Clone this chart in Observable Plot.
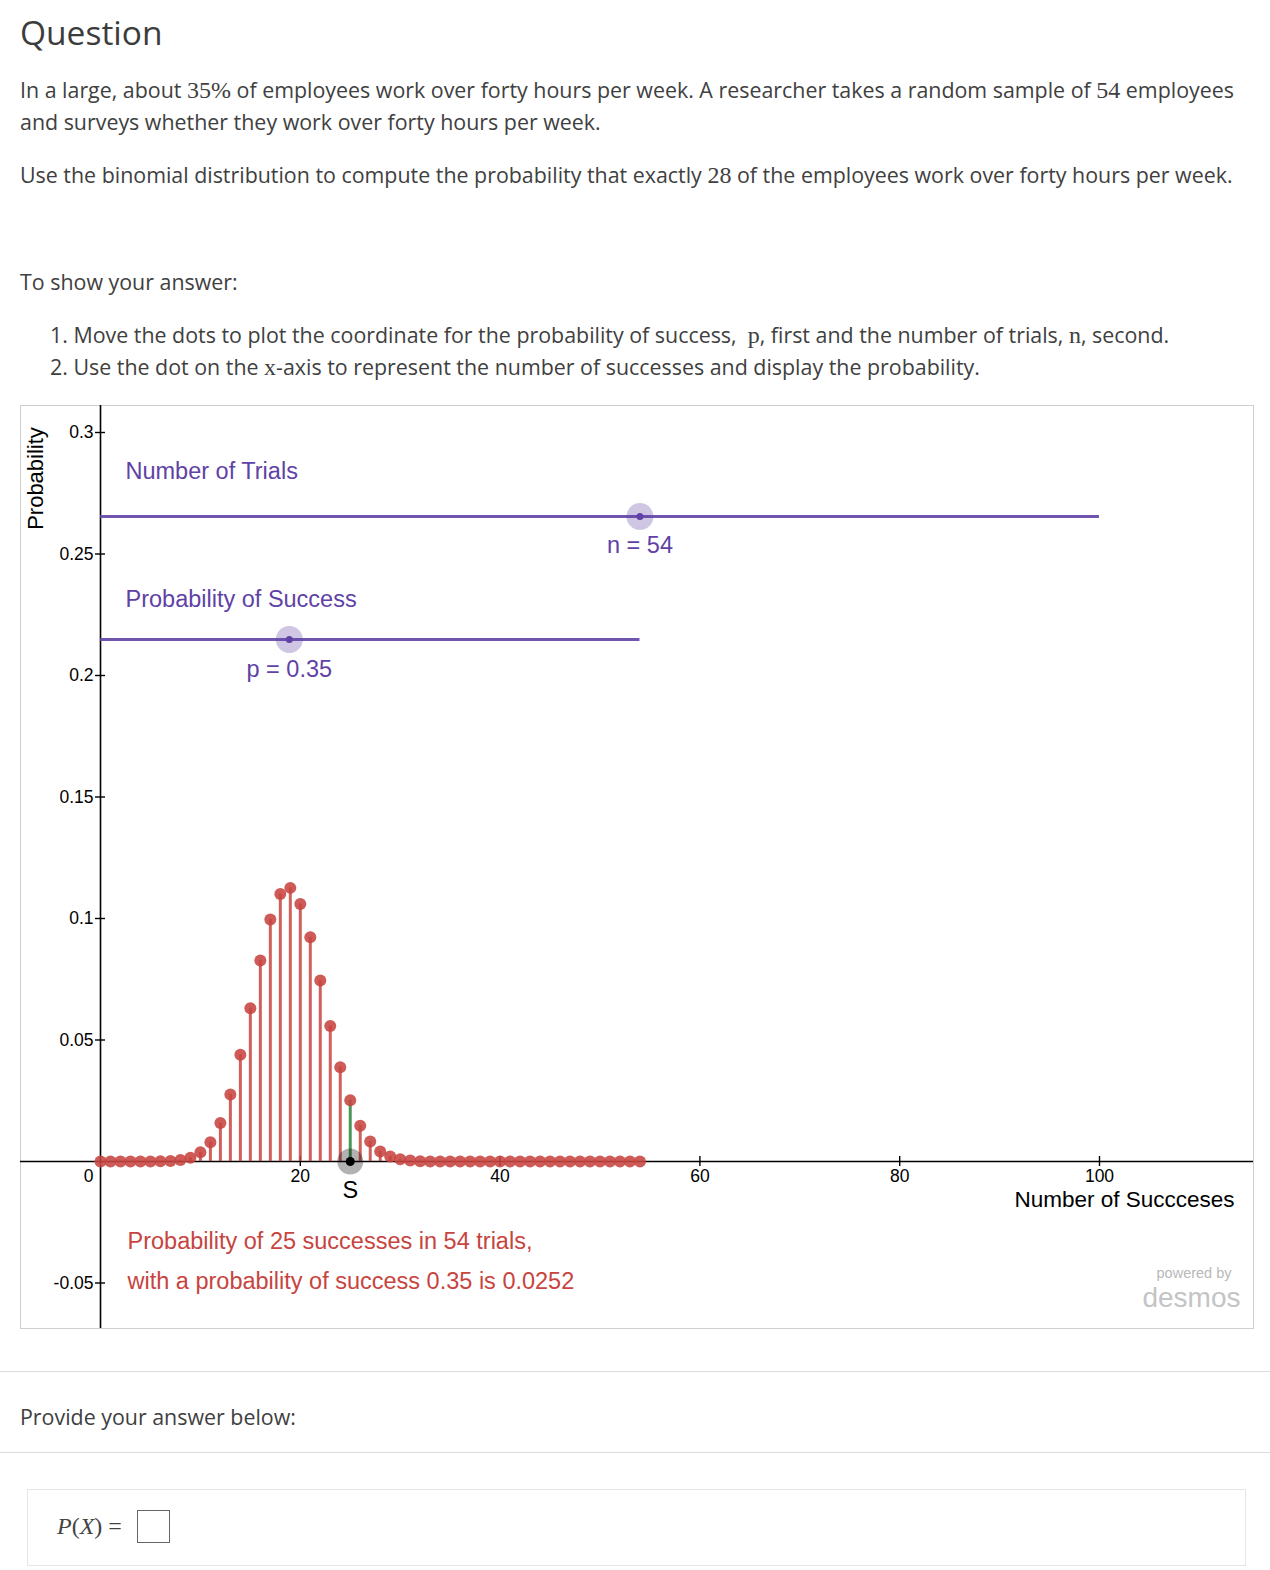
<!DOCTYPE html>
<html>
<head>
<meta charset="utf-8">
<script src="https://cdn.jsdelivr.net/npm/d3@7"></script>
<script src="https://cdn.jsdelivr.net/npm/@observablehq/plot@0.6"></script>
<style>
  html, body { margin: 0; padding: 0; background: #fff; }
  body { width: 1270px; height: 1570px; position: relative; overflow: hidden;
         font-family: "Open Sans", "Noto Sans", sans-serif; color: #404040; }
  .t { position: absolute; white-space: nowrap; font-size: 21.4px; line-height: 32px; }
  .m { font-family: "Liberation Serif", "DejaVu Serif", serif; font-size: 24px; }
  .hr { position: absolute; left: 0; width: 1270px; height: 0; border-top: 1px solid #dcdcdc; }
  #graph { position: absolute; left: 20px; top: 405px; }
</style>
</head>
<body>
<div class="t" style="left:20px; top:12px; font-size:33.5px; line-height:40px; color:#3c3c3c;">Question</div>
<div class="t" style="left:20px; top:74px;">In a large, about <span class="m">35%</span> of employees work over forty hours per week. A researcher takes a random sample of <span class="m">54</span> employees</div>
<div class="t" style="left:20px; top:106px;">and surveys whether they work over forty hours per week.</div>
<div class="t" style="left:20px; top:159px;">Use the binomial distribution to compute the probability that exactly <span class="m">28</span> of the employees work over forty hours per week.</div>
<div class="t" style="left:20px; top:266px;">To show your answer:</div>
<div class="t" style="left:50px; top:319px;">1. Move the dots to plot the coordinate for the probability of success, &nbsp;<span class="m">p</span>, first and the number of trials, <span class="m">n</span>, second.</div>
<div class="t" style="left:50px; top:351px;">2. Use the dot on the <span class="m">x</span>-axis to represent the number of successes and display the probability.</div>

<div id="graph"></div>

<div class="hr" style="top:1371px;"></div>
<div class="t" style="left:20px; top:1401px;">Provide your answer below:</div>
<div class="hr" style="top:1452px;"></div>
<div style="position:absolute; left:27px; top:1489px; width:1219px; height:77px; border:1px solid #e6e6e6; box-sizing:border-box;"></div>
<div class="t" style="left:57px; top:1510px; font-family:'Liberation Serif','DejaVu Serif',serif; font-size:24px; color:#444;"><i>P</i>(<i>X</i>) =</div>
<div style="position:absolute; left:137px; top:1510px; width:33px; height:33px; border:1px solid #666; box-sizing:border-box;"></div>

<script>
// ---- data ----
const successes = d3.range(0, 55); // k = 0..54
const probabilities = [
  0, 0, 0, 0, 0, 0, 0.0001, 0.0002, 0.0006, 0.0015,
  0.0038, 0.0079, 0.0158, 0.0276, 0.0439, 0.0631, 0.0827, 0.0996, 0.1101, 0.1126,
  0.1060, 0.0923, 0.0745, 0.0558, 0.0388, 0.0252, 0.0147, 0.0082, 0.0041, 0.0021,
  0.0009, 0.0004, 0.0001, 0, 0, 0, 0, 0, 0, 0,
  0, 0, 0, 0, 0, 0, 0, 0, 0, 0,
  0, 0, 0, 0, 0
];
const nTrials = 54;
const pSuccess = 0.35;
const selectedS = 25;
const nSliderY = 0.2654;   // level of the "Number of Trials" slider
const pSliderY = 0.2148;   // level of the "Probability of Success" slider
const nSliderMax = 100;
const yTicks = [-0.05, 0.05, 0.1, 0.15, 0.2, 0.25, 0.3];
const yTickLabels = ["-0.05", "0.05", "0.1", "0.15", "0.2", "0.25", "0.3"];
const xTicks = [20, 40, 60, 80, 100];
const xTickLabels = ["20", "40", "60", "80", "100"];

const RED = "#c74440", PURPLE = "#6042a6", GREEN = "#388c46";

const pmf = successes.map((k, i) => ({k, p: probabilities[i]}));
const sel = pmf.filter(d => d.k === selectedS);
const yTickData = yTicks.map((v, i) => ({v, label: yTickLabels[i]}));
const xTickData = xTicks.map((v, i) => ({v, label: xTickLabels[i]}));
const nHandle = [{x: nTrials, y: nSliderY}];
const pHandle = [{x: pSuccess * nTrials, y: pSliderY}];

const W = 1233, H = 923;
const xPerPx = 1 / 9.99, yPerPx = 1 / 2430;
const xDomain = [-80 * xPerPx, (W - 80) * xPerPx];
const yDomain = [-(H - 756) * yPerPx, 756 * yPerPx];
const tickHalfX = 5 * xPerPx, tickHalfY = 5 * yPerPx;

const font = "'Liberation Sans', Arial, sans-serif";
const LBL = 23.5;

const plot = Plot.plot({
  width: W, height: H,
  marginTop: 0, marginRight: 0, marginBottom: 0, marginLeft: 0,
  x: {domain: xDomain, axis: null},
  y: {domain: yDomain, axis: null},
  style: {fontFamily: font, background: "#fff", overflow: "visible"},
  marks: [
    Plot.frame({stroke: "#cfcfcf"}),
    // axes
    Plot.ruleY([0], {stroke: "#000", strokeWidth: 1.6}),
    Plot.ruleX([0], {stroke: "#000", strokeWidth: 1.6}),
    Plot.ruleY(yTickData, {y: "v", x1: -tickHalfX, x2: tickHalfX, stroke: "#000", strokeWidth: 1.4}),
    Plot.ruleX(xTickData, {x: "v", y1: -tickHalfY, y2: tickHalfY, stroke: "#000", strokeWidth: 1.4}),
    Plot.text(yTickData, {x: () => 0, y: "v", text: "label", dx: -7, textAnchor: "end", fontSize: 17.5, fill: "#000"}),
    Plot.text(xTickData, {x: "v", y: () => 0, text: "label", dy: 15, fontSize: 17.5, fill: "#000"}),
    Plot.text(["0"], {x: () => 0, y: () => 0, text: d => d, dx: -12, dy: 15, fontSize: 17.5, fill: "#000"}),
    Plot.text(["Probability"], {frameAnchor: "top-left", text: d => d, dx: 7, dy: 73, rotate: -90, textAnchor: "middle", fontSize: 22, fill: "#000"}),
    Plot.text(["Number of Succceses"], {frameAnchor: "top-right", text: d => d, dx: -19, dy: 786, textAnchor: "end", fontSize: 22.5, fill: "#000"}),
    // sliders
    Plot.ruleY([nSliderY], {x1: 0, x2: nSliderMax, stroke: PURPLE, strokeWidth: 3, strokeOpacity: 0.9}),
    Plot.ruleY([pSliderY], {x1: 0, x2: nTrials, stroke: PURPLE, strokeWidth: 3, strokeOpacity: 0.9}),
    Plot.dot(nHandle, {x: "x", y: "y", r: 13.5, fill: PURPLE, fillOpacity: 0.3}),
    Plot.dot(nHandle, {x: "x", y: "y", r: 3.5, fill: PURPLE}),
    Plot.dot(pHandle, {x: "x", y: "y", r: 13.5, fill: PURPLE, fillOpacity: 0.3}),
    Plot.dot(pHandle, {x: "x", y: "y", r: 3.5, fill: PURPLE}),
    Plot.text(nHandle, {x: "x", y: "y", text: d => `n = ${d.x}`, dy: 29, fontSize: LBL, fill: PURPLE}),
    Plot.text(pHandle, {x: "x", y: "y", text: () => `p = ${pSuccess}`, dy: 30, fontSize: LBL, fill: PURPLE}),
    Plot.text(["Number of Trials"], {x: () => 0, y: () => nSliderY, text: d => d, dx: 25, dy: -45, textAnchor: "start", fontSize: LBL, fill: PURPLE}),
    Plot.text(["Probability of Success"], {x: () => 0, y: () => pSliderY, text: d => d, dx: 25, dy: -40, textAnchor: "start", fontSize: LBL, fill: PURPLE}),
    // binomial stems
    Plot.ruleX(pmf.filter(d => d.k !== selectedS), {x: "k", y1: 0, y2: "p", stroke: RED, strokeWidth: 3, strokeOpacity: 0.85}),
    Plot.ruleX(sel, {x: "k", y1: 0, y2: "p", stroke: GREEN, strokeWidth: 3, strokeOpacity: 0.9}),
    Plot.dot(pmf, {x: "k", y: "p", r: 6, fill: RED, fillOpacity: 0.88}),
    // S point
    Plot.dot(sel, {x: "k", y: () => 0, r: 13, fill: "#000", fillOpacity: 0.3}),
    Plot.dot(sel, {x: "k", y: () => 0, r: 4.5, fill: "#000"}),
    Plot.text(sel, {x: "k", y: () => 0, text: () => "S", dy: 29, fontSize: LBL, fill: "#000"}),
    // result text
    Plot.text(sel, {x: () => 0, y: () => 0, text: d => `Probability of ${d.k} successes in ${nTrials} trials,`, dx: 27, dy: 80, textAnchor: "start", fontSize: LBL, fill: RED}),
    Plot.text(sel, {x: () => 0, y: () => 0, text: d => `with a probability of success ${pSuccess} is ${d.p.toFixed(4)}`, dx: 27, dy: 120, textAnchor: "start", fontSize: LBL, fill: RED}),
    // branding
    Plot.text(["powered by"], {frameAnchor: "bottom-right", text: d => d, dx: -22, dy: -51, textAnchor: "end", fontSize: 14.5, fill: "#b8b8b8"}),
    Plot.text(["desmos"], {frameAnchor: "bottom-right", text: d => d, dx: -13, dy: -22, textAnchor: "end", fontSize: 28, fill: "#c4c4c4"})
  ]
});
document.getElementById("graph").appendChild(plot);
</script>
</body>
</html>
